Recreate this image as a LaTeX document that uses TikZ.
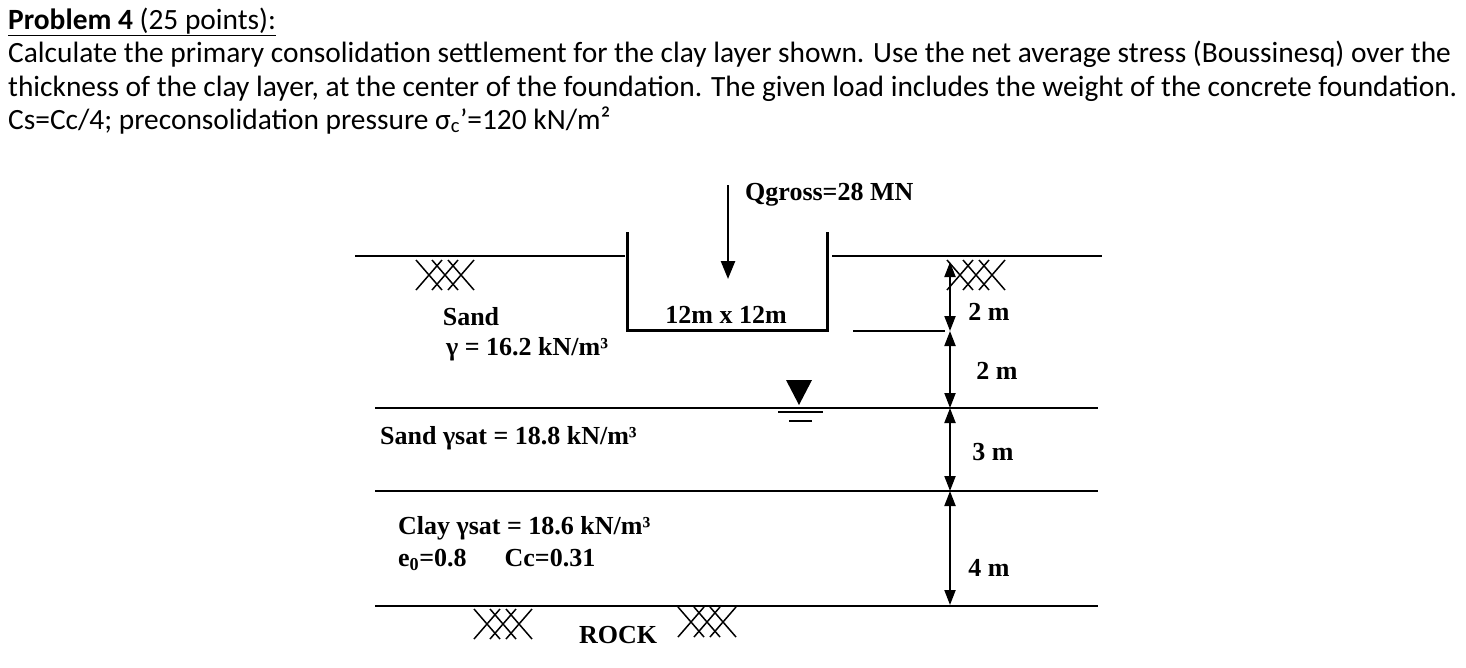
\documentclass[tikz,border=0pt]{standalone}
\usepackage{fontspec}
\setmainfont{Carlito}
\newfontfamily\tms{Liberation Serif}
\usetikzlibrary{arrows.meta}
\begin{document}
\begin{tikzpicture}[x=1pt,y=-1pt,
  hdr/.style={anchor=base west,inner sep=0pt,font=\fontsize{29.4}{33}\selectfont},
  lbl/.style={inner sep=0pt,font=\tms\bfseries\fontsize{26}{30}\selectfont},
  ln/.style={line width=1.8pt},
  dim/.style={line width=2pt,{Triangle[length=15pt,width=11pt]}-{Triangle[length=15pt,width=11pt]}},
  hatch/.pic={\foreach \i in {0,1,2}{\draw[line width=1.5pt] (\i*16,0)--++(26,30); \draw[line width=1.5pt] (\i*16+26,0)--++(-26,30);}}]
\useasboundingbox (0,0) rectangle (1466,667);
% header
\node[hdr] (h1) at (8,29) {\underline{\textbf{Problem 4} (25 points):}};
\node[hdr] (h2) at (8,62) {Calculate the primary consolidation settlement for the clay layer shown. Use the net average stress (Boussinesq) over the};
\node[hdr] (h3) at (8,96) {thickness of the clay layer, at the center of the foundation. The given load includes the weight of the concrete foundation.};
\node[hdr] (h4) at (8,129) {Cs=Cc/4; preconsolidation pressure σ\textsubscript{c}’=120 kN/m²};
% ground
\draw[ln] (355,256) -- (625,256);
\draw[ln] (832,256) -- (1102,256);
\draw[line width=3pt] (627,232) -- (627,330) -- (827,330) -- (827,232);
\coordinate (qa) at (728,185); \coordinate (qb) at (728,279);
\draw[line width=2.5pt,-{Triangle[length=18pt,width=14pt]}] (qa) -- (qb);
\node[lbl,anchor=west] (q) at (745,195) {Qgross=28 MN};
\draw[ln] (853,331) -- (945,331);
\draw[ln] (375,408) -- (1098,408);
\draw[ln] (375,491) -- (1098,491);
\draw[ln] (375,606) -- (1098,606);
% dims
\coordinate (d0) at (950,262); \coordinate (d1) at (950,331);
\coordinate (d2) at (950,408); \coordinate (d3) at (950,491); \coordinate (d4) at (950,605);
\draw[dim] (d0)--(d1); \draw[dim] (d1)--(d2); \draw[dim] (d2)--(d3); \draw[dim] (d3)--(d4);
\node[lbl] (m1) at (989,312) {2 m};
\node[lbl] (m2) at (997,371) {2 m};
\node[lbl] (m3) at (993,452) {3 m};
\node[lbl] (m4) at (989,568) {4 m};
% water table
\fill (786,380) -- (812,380) -- (799,405) -- cycle;
\draw[line width=1.6pt] (778,412) -- (823,412);
\draw[line width=1.6pt] (789,421) -- (812,421);
% hatches
\pic at (416,260) {hatch};
\pic at (947,260) {hatch};
\pic at (474,609) {hatch};
\pic at (678,607) {hatch};
% labels
\node[lbl] (s1) at (471,317) {Sand};
\node[lbl,anchor=west] (s2) at (446,349) {γ = 16.2 kN/m³};
\node[lbl] (f) at (726,315) {12m x 12m};
\node[lbl,anchor=west] (s3) at (380,438) {Sand γsat = 18.8 kN/m³};
\node[lbl,anchor=west] (c1) at (398,528) {Clay γsat = 18.6 kN/m³};
\node[lbl,anchor=west] (c2) at (398,560) {e\textsubscript{0}=0.8\hspace{38pt}Cc=0.31};
\node[lbl] (r) at (618,635) {ROCK};
\end{tikzpicture}
\end{document}
